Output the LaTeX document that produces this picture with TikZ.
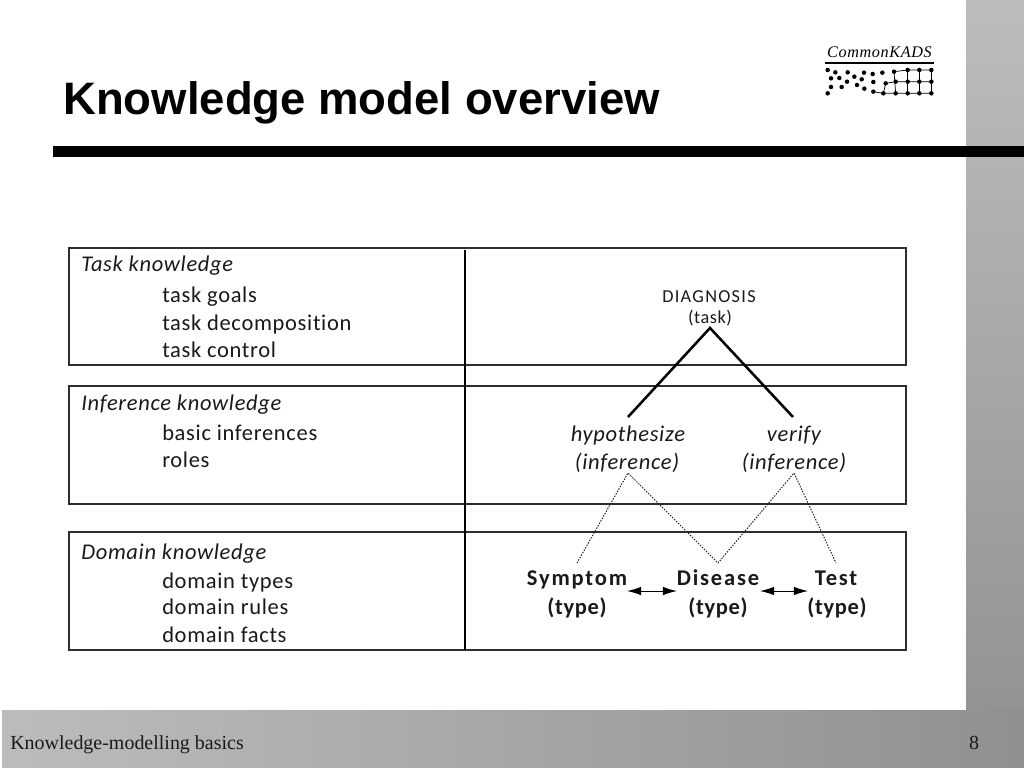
\documentclass[tikz,border=0pt]{standalone}
\usepackage{fontspec}
\usepackage{xcolor}
\setmainfont{Carlito}[LetterSpace=3,Ligatures=NoCommon]
\newfontfamily\titlefont{Liberation Sans}
\newfontfamily\footfont{Liberation Serif}
\newfontfamily\logofont{Liberation Serif}[LetterSpace=4]
\usetikzlibrary{arrows.meta}
\definecolor{bandlight}{HTML}{BCBCBC}
\definecolor{banddark}{HTML}{909090}
\definecolor{ink}{HTML}{1A1A1A}
\definecolor{rule}{HTML}{2E2E2E}
\newcommand{\widelabel}{\addfontfeature{LetterSpace=8}}
\newcommand{\capslabel}{\addfontfeature{LetterSpace=7}}
\tikzset{
  panel/.style={draw=rule, line width=0.8pt},
  divider/.style={draw=black, line width=0.8pt},
  treeline/.style={draw=black, line width=1.8pt},
  dotline/.style={draw=ink, line width=0.7pt, dash pattern=on 1pt off 1pt},
  typearrow/.style={draw=black, line width=0.7pt, {Latex[length=10pt,width=6pt]}-{Latex[length=10pt,width=6pt]}},
  lab/.style={text=ink, font=\fontsize{16}{16}\selectfont, anchor=base west, inner sep=0pt},
  labit/.style={lab, font=\fontsize{16}{16}\selectfont\itshape},
  mid/.style={text=ink, font=\fontsize{16}{16}\selectfont, anchor=base, inner sep=0pt},
  midit/.style={mid, font=\fontsize{16}{16}\selectfont\itshape},
  midbf/.style={mid, font=\fontsize{16}{16}\selectfont\bfseries\widelabel},
  midsub/.style={mid, font=\fontsize{16}{16}\selectfont\bfseries},
  small/.style={mid, font=\fontsize{13}{13}\selectfont},
  foot/.style={text=ink, font=\footfont\fontsize{14.2}{14.2}\selectfont, anchor=base, inner sep=0pt},
  gridpt/.style={circle, fill=black, inner sep=0pt, minimum size=3.2pt},
  logoline/.style={draw=black, line width=0.5pt},
}

\begin{document}
\begin{tikzpicture}[x=0.025cm,y=-0.025cm]
  \useasboundingbox (0,0) rectangle (1024,768);
  \fill[white] (0,0) rectangle (1024,768);

  % grey bands
  \shade[top color=bandlight, bottom color=banddark] (966,0) rectangle (1024,768);
  \shade[left color=bandlight, right color=banddark] (2,710) rectangle (1024,768);
  \fill[black] (53,146) rectangle (1024,157);

  % title and footer
  \node[text=black, font=\titlefont\bfseries\fontsize{32.35}{32.35}\selectfont, anchor=base west, inner sep=0pt] (title) at (63,115) {Knowledge model overview};
  \node[foot, anchor=base west] (footer) at (10,749) {Knowledge-modelling basics};
  \node[foot] (page) at (974,749) {8};

  % logo
  \node[text=black, font=\logofont\itshape\fontsize{11.5}{11.5}\selectfont, anchor=base, inner sep=0pt] (logotext) at (879.5,58) {CommonKADS};
  \draw[black, line width=1.3pt] (825,63) -- (934,63);
  \begin{scope}[shift={(800,20)}, x=0.025cm/3, y=-0.025cm/3]
    \draw[logoline] (282,155) -- (323,150) -- (394,150);
    \draw[logoline] (257,190) -- (287,185) -- (394,185);
    \draw[logoline] (220,215) -- (250,220) -- (394,220);
    \draw[logoline] (323,150) -- (323,220);
    \draw[logoline] (358,150) -- (358,220);
    \draw[logoline] (394,150) -- (394,220);
    \draw[logoline] (282,155) -- (287,220);
    \draw[logoline] (257,190) -- (250,220);
    \foreach \px/\py in {83/150,106/157,143/157,163/170,192/158,218/162,247/158,282/155,
                         93/175,118/174,141/185,185/178,220/186,257/190,
                         93/201,125/201,171/195,193/206,220/215,83/220,
                         323/150,358/150,394/150,287/185,323/185,358/185,394/185,
                         250/220,287/220,323/220,358/220,394/220}
      \node[gridpt] at (\px,\py) {};
  \end{scope}

  % panels
  \draw[panel] (69,248) rectangle (906,365);
  \draw[panel] (69,386) rectangle (906,504);
  \draw[panel] (69,532) rectangle (906,650);
  \draw[divider] (465,250) -- (465,650);

  % left column
  \node[labit] (taskhead) at (81,271) {Task knowledge};
  \node[lab] (taskgoals) at (162,302) {task goals};
  \node[lab] (taskdec) at (162,330) {task decomposition};
  \node[lab] (taskctl) at (162,357) {task control};
  \node[labit] (infhead) at (81,410) {Inference knowledge};
  \node[lab] (infbasic) at (162,440) {basic inferences};
  \node[lab] (infroles) at (162,467) {roles};
  \node[labit] (domhead) at (81,559) {Domain knowledge};
  \node[lab] (domtypes) at (162,588) {domain types};
  \node[lab] (domrules) at (162,614) {domain rules};
  \node[lab] (domfacts) at (162,642) {domain facts};

  % right column
  \node[small, font=\fontsize{13}{13}\selectfont\capslabel] (diag) at (709,302) {DIAGNOSIS};
  \node[small] (diagsub) at (710,323) {(task)};
  \node[midit] (hypo) at (628,441) {hypothesize};
  \node[midit] (hyposub) at (627,469) {(inference)};
  \node[midit] (verify) at (794,441) {verify};
  \node[midit] (verifysub) at (794,469) {(inference)};
  \node[midbf] (symptom) at (577,585) {Symptom};
  \node[midsub] (symptomsub) at (577,614) {(type)};
  \node[midbf] (disease) at (718,585) {Disease};
  \node[midsub] (diseasesub) at (718,614) {(type)};
  \node[midbf] (test) at (836,585) {Test};
  \node[midsub] (testsub) at (837,614) {(type)};

  % connector ends
  \coordinate (diagfoot) at (710,328);
  \coordinate (hypohead) at (628,417);
  \coordinate (verifyhead) at (793,417);
  \coordinate (hypofoot) at (628,473);
  \coordinate (verifyfoot) at (794,473);
  \coordinate (symptomhead) at (577,563);
  \coordinate (diseasehead) at (718,563);
  \coordinate (testhead) at (836,563);
  \coordinate (arrowa) at (627,591);
  \coordinate (arrowb) at (677,591);
  \coordinate (arrowc) at (760,591);
  \coordinate (arrowd) at (808,591);

  \draw[treeline] (hypohead) -- (diagfoot) -- (verifyhead);
  \draw[dotline] (symptomhead) -- (hypofoot) -- (diseasehead) -- (verifyfoot) -- (testhead);
  \draw[typearrow] (arrowa) -- (arrowb);
  \draw[typearrow] (arrowc) -- (arrowd);
\end{tikzpicture}
\end{document}
